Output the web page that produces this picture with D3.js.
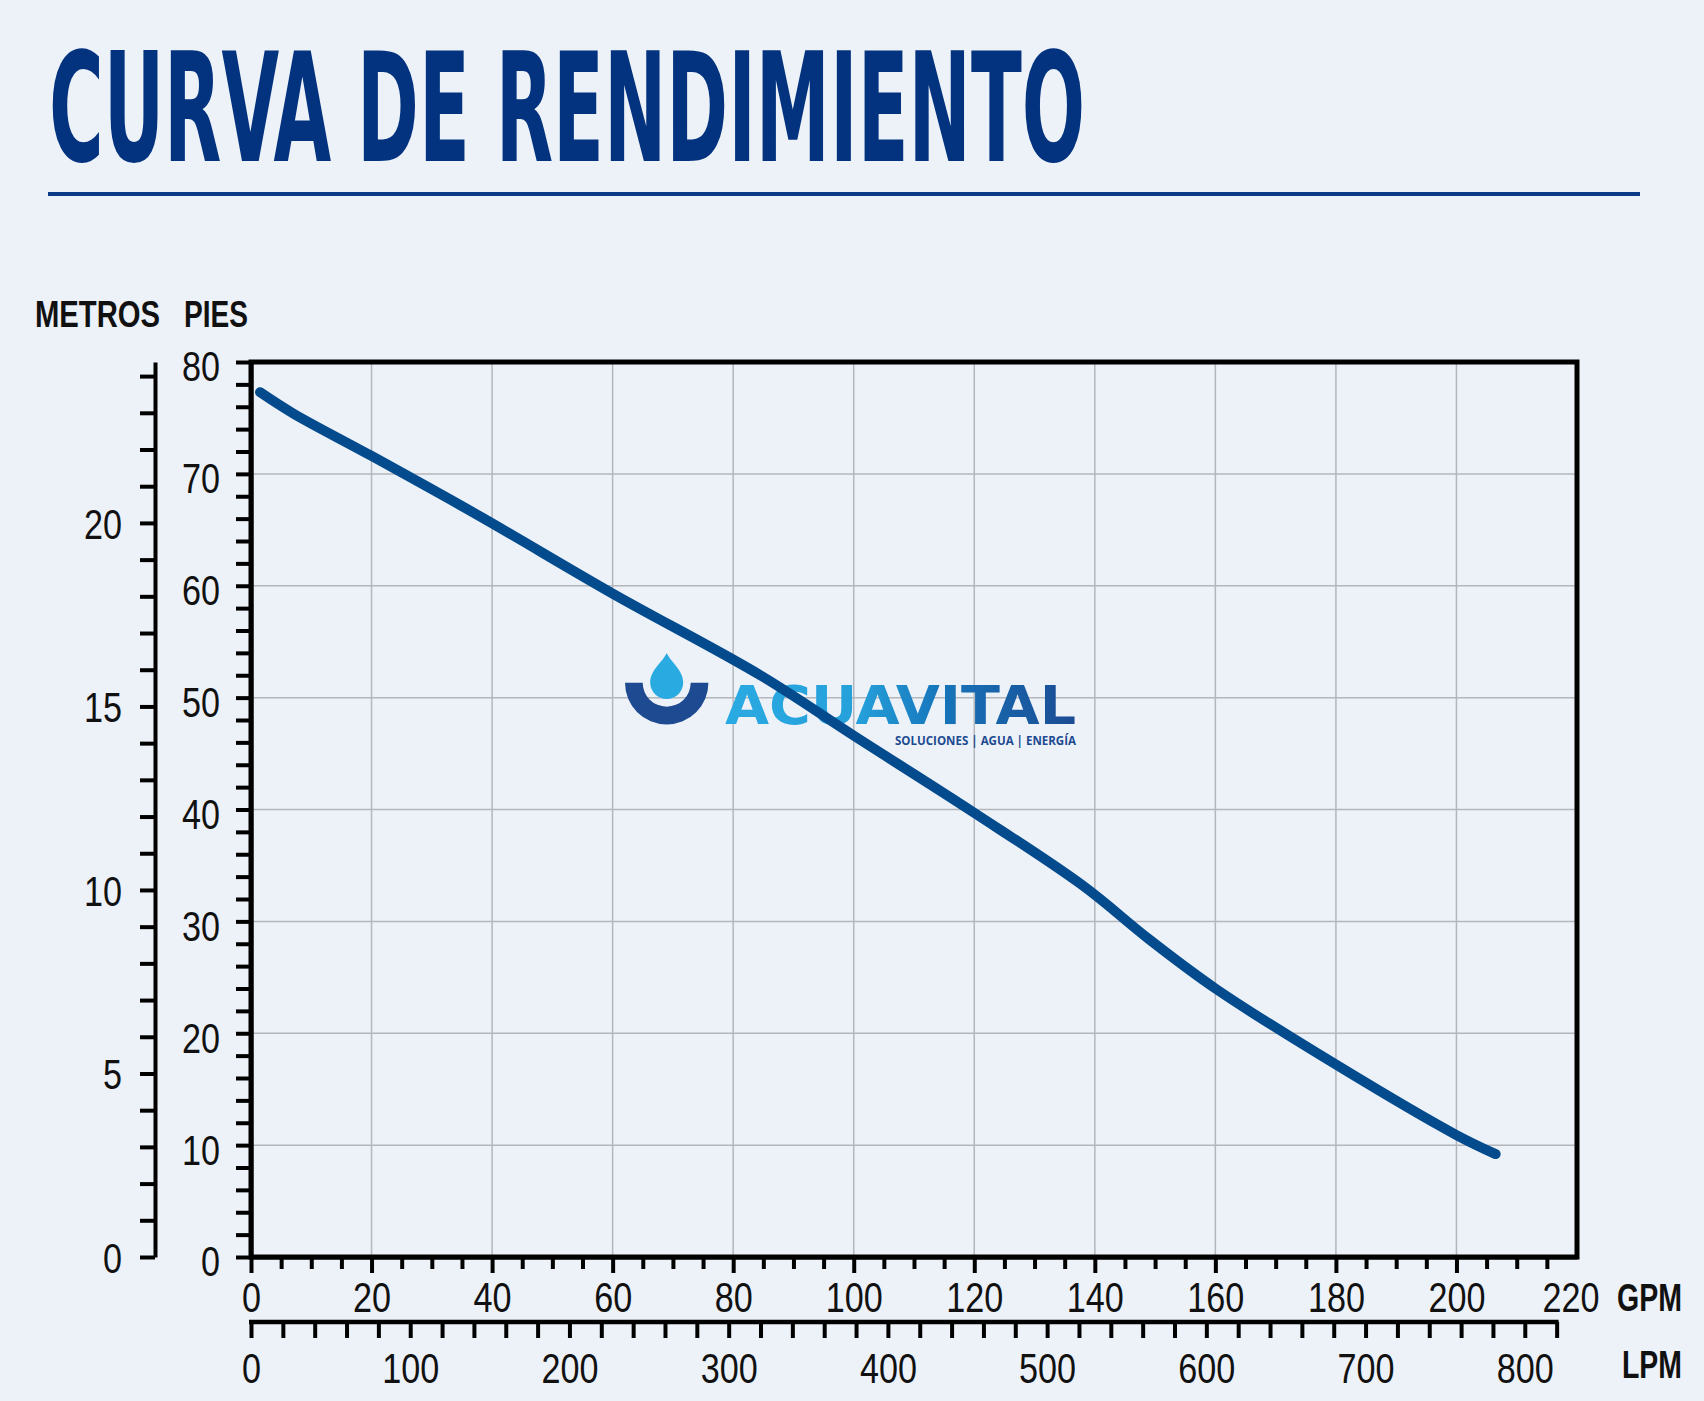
<!DOCTYPE html>
<html>
<head>
<meta charset="utf-8">
<script src="https://cdn.jsdelivr.net/npm/d3@7"></script>
<style>
  body { margin: 0; background: #edf2f9; }
  svg { display: block; }
  .num { font-family: "Liberation Sans", Arial, sans-serif; font-size: 42px; fill: #111; }
  .lbl { font-family: "Liberation Sans", Arial, sans-serif; font-weight: bold; fill: #111; }
</style>
</head>
<body>
<script>
// pump curve (flow in GPM, head in feet)
const flowGpm = [1.5, 7, 20, 38, 60, 84.5, 100, 120, 138, 149, 160, 180, 200, 206.5];
const headFt = [77.3, 75.4, 71.6, 66.2, 59.3, 52.0, 46.6, 39.7, 33.2, 28.4, 24.0, 17.2, 10.9, 9.2];

// axis labels
const gpmLabels = [0, 20, 40, 60, 80, 100, 120, 140, 160, 180, 200, 220];
const lpmLabels = [0, 100, 200, 300, 400, 500, 600, 700, 800];
const ftLabels = [0, 10, 20, 30, 40, 50, 60, 70, 80];
const mLabels = [0, 5, 10, 15, 20];

const W = 1704, H = 1401;
const pLeft = 251, pRight = 1577, pTop = 362, pBottom = 1257;

const svg = d3.select("body").append("svg")
  .attr("width", W).attr("height", H)
  .attr("xmlns", "http://www.w3.org/2000/svg");

svg.append("rect").attr("width", W).attr("height", H).attr("fill", "#edf2f9");

// title + rule
svg.append("text")
  .attr("x", 49).attr("y", 161)
  .attr("textLength", 1036).attr("lengthAdjust", "spacingAndGlyphs")
  .style("font-family", "'DejaVu Sans Condensed', 'Liberation Sans', sans-serif")
  .style("font-weight", "bold").style("font-size", "152px")
  .attr("fill", "#03337f")
  .text("CURVA DE RENDIMIENTO");
svg.append("line")
  .attr("x1", 48).attr("x2", 1640).attr("y1", 194).attr("y2", 194)
  .attr("stroke", "#0a3a86").attr("stroke-width", 4);

const x = d3.scaleLinear().domain([0, 220]).range([pLeft, pRight]);
const y = d3.scaleLinear().domain([0, 80]).range([pBottom, pTop]);
const xL = d3.scaleLinear().domain([0, 220 * 3.7854]).range([pLeft, pRight]);
const yM = d3.scaleLinear().domain([0, 80 * 0.3048]).range([pBottom, pTop]);

// grid
svg.append("g").selectAll("line").data(gpmLabels.filter(d => d > 0 && d < 220)).join("line")
  .attr("x1", d => x(d)).attr("x2", d => x(d)).attr("y1", pTop).attr("y2", pBottom)
  .attr("stroke", "#b3b6ba").attr("stroke-width", 1.5);
svg.append("g").selectAll("line").data(ftLabels.filter(d => d > 0 && d < 80)).join("line")
  .attr("x1", pLeft).attr("x2", pRight).attr("y1", d => y(d)).attr("y2", d => y(d))
  .attr("stroke", "#b3b6ba").attr("stroke-width", 1.5);

// logo watermark
const defs = svg.append("defs");
const grad = defs.append("linearGradient").attr("id", "lg")
  .attr("gradientUnits", "userSpaceOnUse")
  .attr("x1", 725).attr("x2", 1076).attr("y1", 0).attr("y2", 0);
grad.append("stop").attr("offset", 0).attr("stop-color", "#2aaae2");
grad.append("stop").attr("offset", 0.38).attr("stop-color", "#25a0da");
grad.append("stop").attr("offset", 0.62).attr("stop-color", "#1674ba");
grad.append("stop").attr("offset", 1).attr("stop-color", "#1b4b92");
const logo = svg.append("g");
const cx = 666.7, cy = 682.7;
logo.append("path")
  .attr("d", `M${cx - 41.7},${cy} A41.7,41.7 0 0 0 ${cx + 41.7},${cy} L${cx + 24},${cy} A24,24 0 0 1 ${cx - 24},${cy} Z`)
  .attr("fill", "#1d4a90");
logo.append("path")
  .attr("d", `M${cx},653 C${cx + 4},662 ${cx + 16.5},670 ${cx + 16.5},682.5 A16.5,16.5 0 0 1 ${cx - 16.5},682.5 C${cx - 16.5},670 ${cx - 4},662 ${cx},653 Z`)
  .attr("fill", "#29abe2");
logo.append("text")
  .attr("x", 725).attr("y", 724)
  .attr("textLength", 351).attr("lengthAdjust", "spacingAndGlyphs")
  .style("font-family", "'DejaVu Sans', sans-serif").style("font-weight", "bold").style("font-size", "54px")
  .attr("fill", "url(#lg)")
  .text("ACUAVITAL");
logo.append("text")
  .attr("x", 895).attr("y", 745)
  .attr("textLength", 181).attr("lengthAdjust", "spacingAndGlyphs")
  .style("font-family", "'Open Sans', 'DejaVu Sans', sans-serif").style("font-weight", "bold").style("font-size", "13px")
  .attr("fill", "#1d4a90")
  .text("SOLUCIONES | AGUA | ENERGÍA");

// curve
const pts = flowGpm.map((g, i) => [g, headFt[i]]);
svg.append("path")
  .datum(pts)
  .attr("d", d3.line().x(d => x(d[0])).y(d => y(d[1])).curve(d3.curveCatmullRom.alpha(0.5)))
  .attr("fill", "none").attr("stroke", "#044b8e").attr("stroke-width", 10)
  .attr("stroke-linecap", "round").attr("stroke-linejoin", "round");

function styleAxis(g) {
  g.selectAll(".tick line").attr("stroke", "#000").attr("stroke-width", 4);
  g.selectAll(".tick text").attr("class", "num").attr("fill", "#111")
    .each(function () {
      const t = d3.select(this), s = t.text();
      if (s) t.attr("textLength", s.length * 19).attr("lengthAdjust", "spacingAndGlyphs");
    });
  g.select(".domain").attr("stroke", "#000").attr("stroke-width", 4);
}

// feet axis (left of frame)
const gFt = svg.append("g").attr("transform", `translate(${pLeft},0)`)
  .call(d3.axisLeft(y).tickValues(d3.range(0, 81, 2)).tickSize(15).tickSizeOuter(0).tickPadding(16)
    .tickFormat(d => d % 10 === 0 ? d : ""));
styleAxis(gFt);
gFt.selectAll(".tick text").attr("dy", "0.45em");

// metres axis
const gM = svg.append("g").attr("transform", "translate(155,0)")
  .call(d3.axisLeft(yM).tickValues(d3.range(0, 25, 1)).tickSize(15).tickSizeOuter(0).tickPadding(18)
    .tickFormat(d => mLabels.includes(d) ? d : ""));
styleAxis(gM);
gM.selectAll(".tick text").attr("dy", "0.36em");

// GPM axis
const gG = svg.append("g").attr("transform", `translate(0,${pBottom})`)
  .call(d3.axisBottom(x).tickValues(d3.range(0, 216, 5)).tickSize(12).tickSizeOuter(0).tickPadding(13)
    .tickFormat(d => gpmLabels.includes(d) ? d : ""));
styleAxis(gG);
gG.selectAll(".tick line").filter(d => d % 20 === 0).attr("y2", 16);
gG.append("text").attr("class", "num")
  .attr("x", x(220) - 6).attr("y", 12 + 13).attr("dy", "0.71em").attr("text-anchor", "middle")
  .attr("textLength", 57).attr("lengthAdjust", "spacingAndGlyphs")
  .text(gpmLabels[gpmLabels.length - 1]);

// LPM axis
const gL = svg.append("g").attr("transform", "translate(0,1322)")
  .call(d3.axisBottom(xL).tickValues(d3.range(0, 821, 20)).tickSize(16).tickSizeOuter(0).tickPadding(15)
    .tickFormat(d => lpmLabels.includes(d) ? d : ""));
styleAxis(gL);
gL.select(".domain").remove();
gL.append("line").attr("x1", xL(0) - 2).attr("x2", xL(820) + 2).attr("y1", 0).attr("y2", 0)
  .attr("stroke", "#000").attr("stroke-width", 4.5);

// frame
svg.append("rect")
  .attr("x", pLeft).attr("y", pTop).attr("width", pRight - pLeft).attr("height", pBottom - pTop)
  .attr("fill", "none").attr("stroke", "#000").attr("stroke-width", 5);

// unit labels
svg.append("text").attr("class", "lbl").attr("x", 35).attr("y", 327)
  .attr("textLength", 125).attr("lengthAdjust", "spacingAndGlyphs").style("font-size", "37px").text("METROS");
svg.append("text").attr("class", "lbl").attr("x", 184).attr("y", 327)
  .attr("textLength", 64).attr("lengthAdjust", "spacingAndGlyphs").style("font-size", "37px").text("PIES");
svg.append("text").attr("class", "lbl").attr("x", 1617).attr("y", 1311)
  .attr("textLength", 65).attr("lengthAdjust", "spacingAndGlyphs").style("font-size", "39px").text("GPM");
svg.append("text").attr("class", "lbl").attr("x", 1622).attr("y", 1378)
  .attr("textLength", 60).attr("lengthAdjust", "spacingAndGlyphs").style("font-size", "39px").text("LPM");
</script>
</body>
</html>
